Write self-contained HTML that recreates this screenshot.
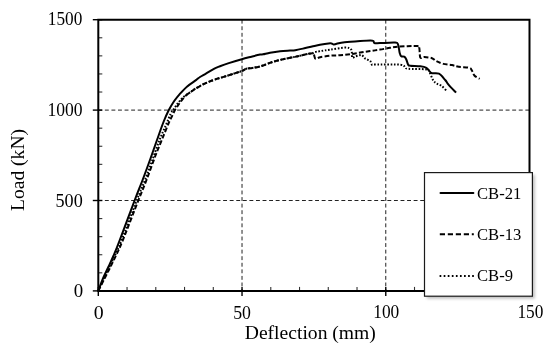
<!DOCTYPE html>
<html><head><meta charset="utf-8"><style>
html,body{margin:0;padding:0;background:#fff;}
svg{display:block;filter:blur(0.3px);}
.grid{stroke:#222;stroke-width:1;stroke-dasharray:3.9 2.67;fill:none;}
.tick{stroke:#000;stroke-width:1.4;fill:none;}
.mtick{stroke:#333;stroke-width:1.1;fill:none;}
.axis{stroke:#000;stroke-width:2;fill:none;}
.c{fill:none;stroke:#000;stroke-width:2;stroke-linejoin:round;}
.dash{stroke-dasharray:4.7 2.2;}
.dot{stroke-dasharray:1.6 1.67;}
.ldash{stroke-dasharray:5.2 2.8;}
.ldot{stroke-dasharray:1.7 2.37;}
.lab{font-family:"Liberation Serif",serif;font-size:18.8px;fill:#000;}
.ttl{font-family:"Liberation Serif",serif;font-size:19.6px;fill:#000;}
.leg{font-family:"Liberation Serif",serif;font-size:16.6px;fill:#000;}
</style></head><body>
<svg width="550" height="347" viewBox="0 0 550 347">
<line x1="242.03" y1="19.70" x2="242.03" y2="290.90" class="grid"/>
<line x1="385.77" y1="19.70" x2="385.77" y2="290.90" class="grid"/>
<line x1="98.30" y1="200.50" x2="529.50" y2="200.50" class="grid"/>
<line x1="98.30" y1="110.10" x2="529.50" y2="110.10" class="grid"/>
<line x1="127.05" y1="290.90" x2="127.05" y2="286.90" class="mtick"/>
<line x1="155.79" y1="290.90" x2="155.79" y2="286.90" class="mtick"/>
<line x1="184.54" y1="290.90" x2="184.54" y2="286.90" class="mtick"/>
<line x1="213.29" y1="290.90" x2="213.29" y2="286.90" class="mtick"/>
<line x1="270.78" y1="290.90" x2="270.78" y2="286.90" class="mtick"/>
<line x1="299.53" y1="290.90" x2="299.53" y2="286.90" class="mtick"/>
<line x1="328.27" y1="290.90" x2="328.27" y2="286.90" class="mtick"/>
<line x1="357.02" y1="290.90" x2="357.02" y2="286.90" class="mtick"/>
<line x1="414.51" y1="290.90" x2="414.51" y2="286.90" class="mtick"/>
<line x1="443.26" y1="290.90" x2="443.26" y2="286.90" class="mtick"/>
<line x1="472.01" y1="290.90" x2="472.01" y2="286.90" class="mtick"/>
<line x1="500.75" y1="290.90" x2="500.75" y2="286.90" class="mtick"/>
<line x1="98.30" y1="272.82" x2="102.30" y2="272.82" class="mtick"/>
<line x1="98.30" y1="254.74" x2="102.30" y2="254.74" class="mtick"/>
<line x1="98.30" y1="236.66" x2="102.30" y2="236.66" class="mtick"/>
<line x1="98.30" y1="218.58" x2="102.30" y2="218.58" class="mtick"/>
<line x1="98.30" y1="182.42" x2="102.30" y2="182.42" class="mtick"/>
<line x1="98.30" y1="164.34" x2="102.30" y2="164.34" class="mtick"/>
<line x1="98.30" y1="146.26" x2="102.30" y2="146.26" class="mtick"/>
<line x1="98.30" y1="128.18" x2="102.30" y2="128.18" class="mtick"/>
<line x1="98.30" y1="92.02" x2="102.30" y2="92.02" class="mtick"/>
<line x1="98.30" y1="73.94" x2="102.30" y2="73.94" class="mtick"/>
<line x1="98.30" y1="55.86" x2="102.30" y2="55.86" class="mtick"/>
<line x1="98.30" y1="37.78" x2="102.30" y2="37.78" class="mtick"/>
<line x1="98.30" y1="286.90" x2="98.30" y2="296.10" class="tick"/>
<line x1="242.03" y1="286.90" x2="242.03" y2="296.10" class="tick"/>
<line x1="385.77" y1="286.90" x2="385.77" y2="296.10" class="tick"/>
<line x1="529.50" y1="286.90" x2="529.50" y2="296.10" class="tick"/>
<line x1="92.80" y1="290.90" x2="102.30" y2="290.90" class="tick"/>
<line x1="92.80" y1="200.50" x2="102.30" y2="200.50" class="tick"/>
<line x1="92.80" y1="110.10" x2="102.30" y2="110.10" class="tick"/>
<line x1="92.80" y1="19.70" x2="102.30" y2="19.70" class="tick"/>
<path d="M98.30,19.70 H529.50 V290.90 H98.30 Z" class="axis"/>
<path d="M98.30,290.90 C99.25,288.75 102.12,282.07 104.00,278.00 C105.88,273.93 107.77,270.25 109.60,266.50 C111.43,262.75 113.05,259.75 115.00,255.50 C116.95,251.25 117.68,250.17 121.30,241.00 C124.92,231.83 132.75,210.67 136.70,200.50 C140.65,190.33 142.45,186.58 145.00,180.00 C147.55,173.42 149.58,167.67 152.00,161.00 C154.42,154.33 157.17,146.00 159.50,140.00 C161.83,134.00 164.15,129.33 166.00,125.00 C167.85,120.67 169.42,116.48 170.60,114.00 C171.78,111.52 172.10,111.60 173.10,110.10 C174.10,108.60 175.42,106.60 176.60,105.00 C177.78,103.40 178.80,102.03 180.20,100.50 C181.60,98.97 183.28,97.20 185.00,95.80 C186.72,94.40 188.70,93.33 190.50,92.10 C192.30,90.87 193.38,89.83 195.80,88.40 C198.22,86.97 201.90,84.95 205.00,83.50 C208.10,82.05 210.43,81.07 214.40,79.70 C218.37,78.33 224.23,76.75 228.80,75.30 C233.37,73.85 238.90,72.08 241.80,71.00 C244.70,69.92 244.45,69.32 246.20,68.80 C247.95,68.28 249.85,68.33 252.30,67.90 C254.75,67.47 257.78,67.10 260.90,66.20 C264.02,65.30 267.80,63.55 271.00,62.50 C274.20,61.45 276.90,60.68 280.10,59.90 C283.30,59.12 286.85,58.50 290.20,57.80 C293.55,57.10 297.18,56.37 300.20,55.70 C303.22,55.03 306.25,54.22 308.30,53.80 C310.35,53.38 311.48,53.48 312.50,53.20 C313.52,52.92 313.12,52.45 314.40,52.10 C315.68,51.75 317.55,51.52 320.20,51.10 C322.85,50.68 326.15,50.18 330.30,49.60 C334.45,49.02 341.62,47.60 345.10,47.60 C348.58,47.60 350.02,47.97 351.20,49.60 C352.38,51.23 351.57,56.25 352.20,57.40 C352.83,58.55 353.92,56.82 355.00,56.50 C356.08,56.18 357.55,55.73 358.70,55.50 C359.85,55.27 360.95,54.68 361.90,55.10 C362.85,55.52 363.57,57.28 364.40,58.00 C365.23,58.72 365.93,58.92 366.90,59.40 C367.87,59.88 369.42,60.08 370.20,60.90 C370.98,61.72 370.77,63.68 371.60,64.30 C372.43,64.92 370.43,64.53 375.20,64.60 C379.97,64.67 395.20,64.25 400.20,64.70 C405.20,65.15 403.87,66.62 405.20,67.30 C406.53,67.98 404.73,68.45 408.20,68.80 C411.67,69.15 422.47,68.87 426.00,69.40 C429.53,69.93 428.25,70.27 429.40,72.00 C430.55,73.73 431.75,77.92 432.90,79.80 C434.05,81.68 434.87,82.30 436.30,83.30 C437.73,84.30 439.77,84.52 441.50,85.80 C443.23,87.08 445.83,90.13 446.70,91.00" class="c dot"/>
<path d="M98.30,290.90 C99.38,288.75 102.75,282.07 104.80,278.00 C106.85,273.93 108.73,270.25 110.60,266.50 C112.47,262.75 114.02,259.75 116.00,255.50 C117.98,251.25 118.78,250.17 122.50,241.00 C126.22,231.83 134.30,210.67 138.30,200.50 C142.30,190.33 143.63,187.50 146.50,180.00 C149.37,172.50 152.95,162.17 155.50,155.50 C158.05,148.83 159.63,145.33 161.80,140.00 C163.97,134.67 166.87,127.33 168.50,123.50 C170.13,119.67 170.52,119.23 171.60,117.00 C172.68,114.77 173.88,112.10 175.00,110.10 C176.12,108.10 177.18,106.63 178.30,105.00 C179.42,103.37 180.38,101.93 181.70,100.30 C183.02,98.67 184.58,96.67 186.20,95.20 C187.82,93.73 189.80,92.63 191.40,91.50 C193.00,90.37 193.53,89.73 195.80,88.40 C198.07,87.07 201.90,84.95 205.00,83.50 C208.10,82.05 210.43,81.07 214.40,79.70 C218.37,78.33 224.23,76.75 228.80,75.30 C233.37,73.85 238.90,72.08 241.80,71.00 C244.70,69.92 244.45,69.32 246.20,68.80 C247.95,68.28 249.85,68.33 252.30,67.90 C254.75,67.47 257.78,67.10 260.90,66.20 C264.02,65.30 267.80,63.55 271.00,62.50 C274.20,61.45 276.90,60.68 280.10,59.90 C283.30,59.12 286.85,58.50 290.20,57.80 C293.55,57.10 297.18,56.37 300.20,55.70 C303.22,55.03 306.25,54.22 308.30,53.80 C310.35,53.38 311.58,53.17 312.50,53.20 C313.42,53.23 313.30,53.08 313.80,54.00 C314.30,54.92 314.43,58.17 315.50,58.70 C316.57,59.23 317.73,57.70 320.20,57.20 C322.67,56.70 327.00,56.03 330.30,55.70 C333.60,55.37 336.68,55.45 340.00,55.20 C343.32,54.95 346.83,54.63 350.20,54.20 C353.57,53.77 356.85,53.12 360.20,52.60 C363.55,52.08 367.00,51.60 370.30,51.10 C373.60,50.60 376.70,50.15 380.00,49.60 C383.30,49.05 387.08,48.30 390.10,47.80 C393.12,47.30 393.57,46.88 398.10,46.60 C402.63,46.32 413.77,45.85 417.30,46.10 C420.83,46.35 418.80,46.20 419.30,48.10 C419.80,50.00 419.48,56.02 420.30,57.50 C421.12,58.98 422.25,56.88 424.20,57.00 C426.15,57.12 429.98,57.52 432.00,58.20 C434.02,58.88 434.42,60.15 436.30,61.10 C438.18,62.05 440.70,63.23 443.30,63.90 C445.90,64.57 449.32,64.62 451.90,65.10 C454.48,65.58 455.92,66.37 458.80,66.80 C461.68,67.23 467.03,67.12 469.20,67.70 C471.37,68.28 470.93,69.00 471.80,70.30 C472.67,71.60 473.10,74.07 474.40,75.50 C475.70,76.93 478.73,78.33 479.60,78.90" class="c dash"/>
<path d="M98.30,290.90 C99.12,288.75 101.48,282.07 103.20,278.00 C104.92,273.93 106.87,270.25 108.60,266.50 C110.33,262.75 111.80,259.75 113.60,255.50 C115.40,251.25 115.90,250.17 119.40,241.00 C122.90,231.83 130.73,210.67 134.60,200.50 C138.47,190.33 139.95,187.00 142.60,180.00 C145.25,173.00 148.10,165.17 150.50,158.50 C152.90,151.83 154.83,146.08 157.00,140.00 C159.17,133.92 161.55,126.95 163.50,122.00 C165.45,117.05 166.92,113.80 168.70,110.30 C170.48,106.80 172.40,103.67 174.20,101.00 C176.00,98.33 177.33,96.73 179.50,94.30 C181.67,91.87 184.40,88.80 187.20,86.40 C190.00,84.00 194.17,81.47 196.30,79.90 C198.43,78.33 198.40,78.05 200.00,77.00 C201.60,75.95 203.50,75.00 205.90,73.60 C208.30,72.20 212.05,69.83 214.40,68.60 C216.75,67.37 217.60,67.12 220.00,66.20 C222.40,65.28 225.17,64.27 228.80,63.10 C232.43,61.93 238.02,60.27 241.80,59.20 C245.58,58.13 248.47,57.47 251.50,56.70 C254.53,55.93 258.07,55.00 260.00,54.60 C261.93,54.20 261.43,54.62 263.10,54.30 C264.77,53.98 267.17,53.22 270.00,52.70 C272.83,52.18 276.77,51.57 280.10,51.20 C283.43,50.83 287.48,50.67 290.00,50.50 C292.52,50.33 292.65,50.60 295.20,50.20 C297.75,49.80 302.50,48.70 305.30,48.10 C308.10,47.50 309.55,47.15 312.00,46.60 C314.45,46.05 317.25,45.33 320.00,44.80 C322.75,44.27 326.58,43.63 328.50,43.40 C330.42,43.17 330.63,43.22 331.50,43.40 C332.37,43.58 332.95,44.42 333.70,44.50 C334.45,44.58 334.18,44.27 336.00,43.90 C337.82,43.53 340.57,42.78 344.60,42.30 C348.63,41.82 355.92,41.30 360.20,41.00 C364.48,40.70 368.08,40.50 370.30,40.50 C372.52,40.50 372.82,40.57 373.50,41.00 C374.18,41.43 373.32,42.75 374.40,43.10 C375.48,43.45 376.55,43.18 380.00,43.10 C383.45,43.02 392.08,42.35 395.10,42.60 C398.12,42.85 397.33,42.85 398.10,44.60 C398.87,46.35 399.18,51.17 399.70,53.10 C400.22,55.03 400.45,55.60 401.20,56.20 C401.95,56.80 403.37,56.20 404.20,56.70 C405.03,57.20 405.53,57.87 406.20,59.20 C406.87,60.53 407.53,63.62 408.20,64.70 C408.87,65.78 408.18,65.43 410.20,65.70 C412.22,65.97 417.60,65.95 420.30,66.30 C423.00,66.65 424.88,67.00 426.40,67.80 C427.92,68.60 428.47,70.20 429.40,71.10 C430.33,72.00 430.42,72.77 432.00,73.20 C433.58,73.63 436.70,72.57 438.90,73.70 C441.10,74.83 443.77,78.40 445.20,80.00 C446.63,81.60 446.58,82.12 447.50,83.30 C448.42,84.48 449.28,85.55 450.70,87.10 C452.12,88.65 455.12,91.68 456.00,92.60" class="c sol"/>
<text transform="translate(47.84,25.29) scale(0.917,1)" class="lab">1500</text>
<text transform="translate(47.40,115.79) scale(0.937,1)" class="lab">1000</text>
<text transform="translate(55.49,206.59) scale(0.966,1)" class="lab">500</text>
<text transform="translate(73.73,297.09) scale(1.004,1)" class="lab">0</text>
<text transform="translate(93.70,318.89) scale(1.054,1)" class="lab">0</text>
<text transform="translate(233.21,318.79) scale(0.948,1)" class="lab">50</text>
<text transform="translate(373.22,318.49) scale(0.925,1)" class="lab">100</text>
<text transform="translate(517.43,318.29) scale(0.921,1)" class="lab">150</text>
<text x="310.3" y="338.5" text-anchor="middle" class="ttl">Deflection (mm)</text>
<text transform="translate(23.8,170) rotate(-90)" text-anchor="middle" class="ttl">Load (kN)</text>
<filter id="sh" x="-10%" y="-10%" width="130%" height="130%"><feGaussianBlur stdDeviation="1.5"/></filter>
<rect x="426.8" y="175" width="108" height="123.6" fill="#000" opacity="0.26" filter="url(#sh)"/>
<rect x="424.5" y="172.6" width="107.9" height="123.6" fill="#fff" stroke="#1a1a1a" stroke-width="1.2"/>
<line x1="440.5" y1="193.1" x2="473.4" y2="193.1" class="c sol" stroke-linecap="round"/>
<line x1="439.8" y1="234.3" x2="473.8" y2="234.3" class="c ldash"/>
<line x1="439.6" y1="276" x2="474" y2="276" class="c ldot"/>
<text x="477" y="199" class="leg">CB-21</text>
<text x="477" y="240.2" class="leg">CB-13</text>
<text x="477" y="280.8" class="leg">CB-9</text>
</svg>
</body></html>
